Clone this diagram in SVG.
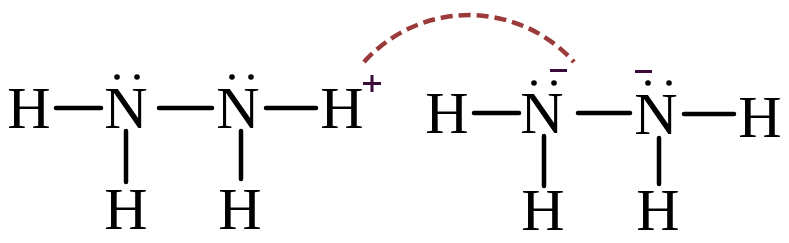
<svg xmlns="http://www.w3.org/2000/svg" width="789" height="243" viewBox="0 0 789 243">
<style>
.a{font-family:"Liberation Serif","Times New Roman",serif;font-size:60px;fill:#000;text-anchor:middle}
.b{stroke:#000;stroke-width:4.5;stroke-linecap:round}
.c{stroke:#3a0a3a;stroke-width:3}
.d{fill:#000}
</style>
<rect width="789" height="243" fill="#fff"/>
<g id="connectors">
<line class="b" x1="56" y1="108" x2="101" y2="108"/>
<line class="b" x1="159" y1="108" x2="212" y2="108"/>
<line class="b" x1="266" y1="108" x2="316" y2="108"/>
<line class="b" x1="126" y1="131" x2="126" y2="182"/>
<line class="b" x1="241" y1="131" x2="241" y2="179"/>
<line class="b" x1="474" y1="113" x2="519" y2="113"/>
<line class="b" x1="578" y1="113" x2="630" y2="113"/>
<line class="b" x1="684" y1="114" x2="734" y2="114"/>
<line class="b" x1="544" y1="136" x2="544" y2="186"/>
<line class="b" x1="659" y1="138" x2="659" y2="184"/>
<path d="M364,62 A141,141 0 0 1 574,62" fill="none" stroke="#9b3a3a" stroke-width="4.5" stroke-dasharray="12,6"/>
</g>
<g id="H1"><text class="a" x="29" y="128">H</text></g>
<g id="N1"><text class="a" x="126" y="128">N</text><circle class="d" cx="117" cy="77" r="2.8"/><circle class="d" cx="137" cy="77" r="2.8"/></g>
<g id="N2"><text class="a" x="238" y="128">N</text><circle class="d" cx="232" cy="77" r="2.8"/><circle class="d" cx="251" cy="77" r="2.8"/></g>
<g id="H3"><text class="a" x="342" y="128">H</text><path class="c" d="M363,83.5 H381 M372,75 V92"/></g>
<g id="H4"><text class="a" x="126" y="229">H</text></g>
<g id="H5"><text class="a" x="240" y="229">H</text></g>
<g id="H6"><text class="a" x="447" y="133">H</text></g>
<g id="N3"><text class="a" x="542" y="133">N</text><circle class="d" cx="534" cy="83" r="2.8"/><circle class="d" cx="554" cy="83" r="2.8"/><line class="c" x1="550" y1="70.5" x2="567" y2="70.5"/></g>
<g id="N4"><text class="a" x="656" y="134">N</text><circle class="d" cx="648" cy="83" r="2.8"/><circle class="d" cx="669" cy="83" r="2.8"/><line class="c" x1="635" y1="71.5" x2="652" y2="71.5"/></g>
<g id="H7"><text class="a" x="760" y="137">H</text></g>
<g id="H8"><text class="a" x="543" y="230">H</text></g>
<g id="H9"><text class="a" x="658" y="230">H</text></g>
</svg>
